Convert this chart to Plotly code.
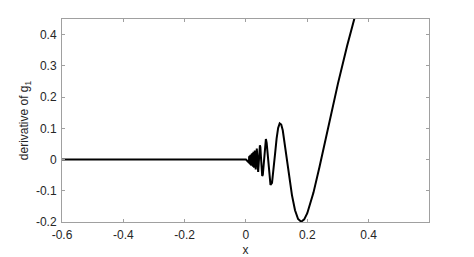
import plotly.graph_objects as go

# Values (x, derivative of g1)
x_flat = [-0.6, -0.3, 0.0]
y_flat = [0.0, 0.0, 0.0]

# dense oscillation region near 0 (peaks read from the filled wedge)
x_dense = [0.00796, 0.00816, 0.00838, 0.00860, 0.00884, 0.00910, 0.00936, 0.00965, 0.00995, 0.01027,
           0.01061, 0.01098, 0.01137, 0.01179, 0.01224, 0.01273, 0.01326, 0.01384, 0.01447, 0.01516,
           0.01592, 0.01675, 0.01768, 0.01872, 0.01989, 0.02122, 0.02274, 0.02449, 0.02653, 0.02894,
           0.03183, 0.03351, 0.03537, 0.03745, 0.03979, 0.04244, 0.04547]
y_dense = [-0.0080, 0.0082, -0.0084, 0.0086, -0.0088, 0.0091, -0.0094, 0.0097, -0.0099, 0.0103,
           -0.0106, 0.0110, -0.0114, 0.0118, -0.0122, 0.0127, -0.0133, 0.0138, -0.0145, 0.0152,
           -0.0159, 0.0168, -0.0177, 0.0187, -0.0199, 0.0212, -0.0227, 0.0245, -0.0265, 0.0289,
           -0.0318, 0.0, 0.0354, 0.0, -0.0398, 0.0, 0.0455]

# larger lobes
x_lobes = [0.047, 0.049, 0.051, 0.053, 0.055, 0.0575, 0.06, 0.0625, 0.065, 0.0675,
           0.07, 0.0725, 0.075, 0.0775, 0.08, 0.085, 0.09, 0.095, 0.10, 0.105,
           0.11, 0.115, 0.12, 0.13, 0.14, 0.15, 0.16, 0.17, 0.18, 0.19,
           0.20, 0.22, 0.24, 0.26, 0.28, 0.30, 0.33, 0.35, 0.36]
y_lobes = [0.0398, 0.0066, -0.0316, -0.0528, -0.0488, -0.0164, 0.0257, 0.0565, 0.0656, 0.0530,
           0.0249, -0.0097, -0.0423, -0.0672, -0.0811, -0.0748, -0.0345, 0.0189, 0.0676, 0.1012,
           0.1158, 0.1122, 0.0937, 0.0291, -0.0469, -0.1138, -0.1624, -0.1903, -0.1990, -0.1917,
           -0.1718, -0.1067, -0.0232, 0.0668, 0.1565, 0.2431, 0.3643, 0.4391, 0.4748]

xs = x_flat + x_dense + x_lobes
ys = y_flat + y_dense + y_lobes

x_ticks = [-0.6, -0.4, -0.2, 0, 0.2, 0.4]
x_ticklabels = ["-0.6", "-0.4", "-0.2", "0", "0.2", "0.4"]
y_ticks = [-0.2, -0.1, 0, 0.1, 0.2, 0.3, 0.4]
y_ticklabels = ["-0.2", "-0.1", "0", "0.1", "0.2", "0.3", "0.4"]

fig = go.Figure()
fig.add_trace(go.Scatter(x=xs, y=ys, mode="lines",
                         line=dict(color="black", width=2),
                         showlegend=False, hoverinfo="skip"))

FONT = "Liberation Sans, Arial, Helvetica, sans-serif"
axis_common = dict(
    showgrid=False, zeroline=False, showline=True, linecolor="#a0a0a0", linewidth=1,
    mirror="ticks", ticks="inside", ticklen=3, tickcolor="#a0a0a0", tickwidth=1,
    tickfont=dict(family=FONT, size=12, color="#262626"), automargin=False,
)

fig.update_layout(
    width=474, height=257,
    margin=dict(l=62, r=45, t=19, b=35, autoexpand=False),
    paper_bgcolor="white", plot_bgcolor="white",
    font=dict(family=FONT, size=12, color="#262626"),
    xaxis=dict(range=[-0.6, 0.597], tickvals=x_ticks, ticktext=x_ticklabels,
               ticklabelstandoff=2,
               title=dict(text="x", standoff=4, font=dict(size=12)), **axis_common),
    yaxis=dict(range=[-0.2, 0.45], tickvals=y_ticks, ticktext=y_ticklabels,
               ticklabelstandoff=2,
               title=dict(text="derivative of g<sub>1</sub>", standoff=4, font=dict(size=12)),
               **axis_common),
)

fig.write_html("out.html")
